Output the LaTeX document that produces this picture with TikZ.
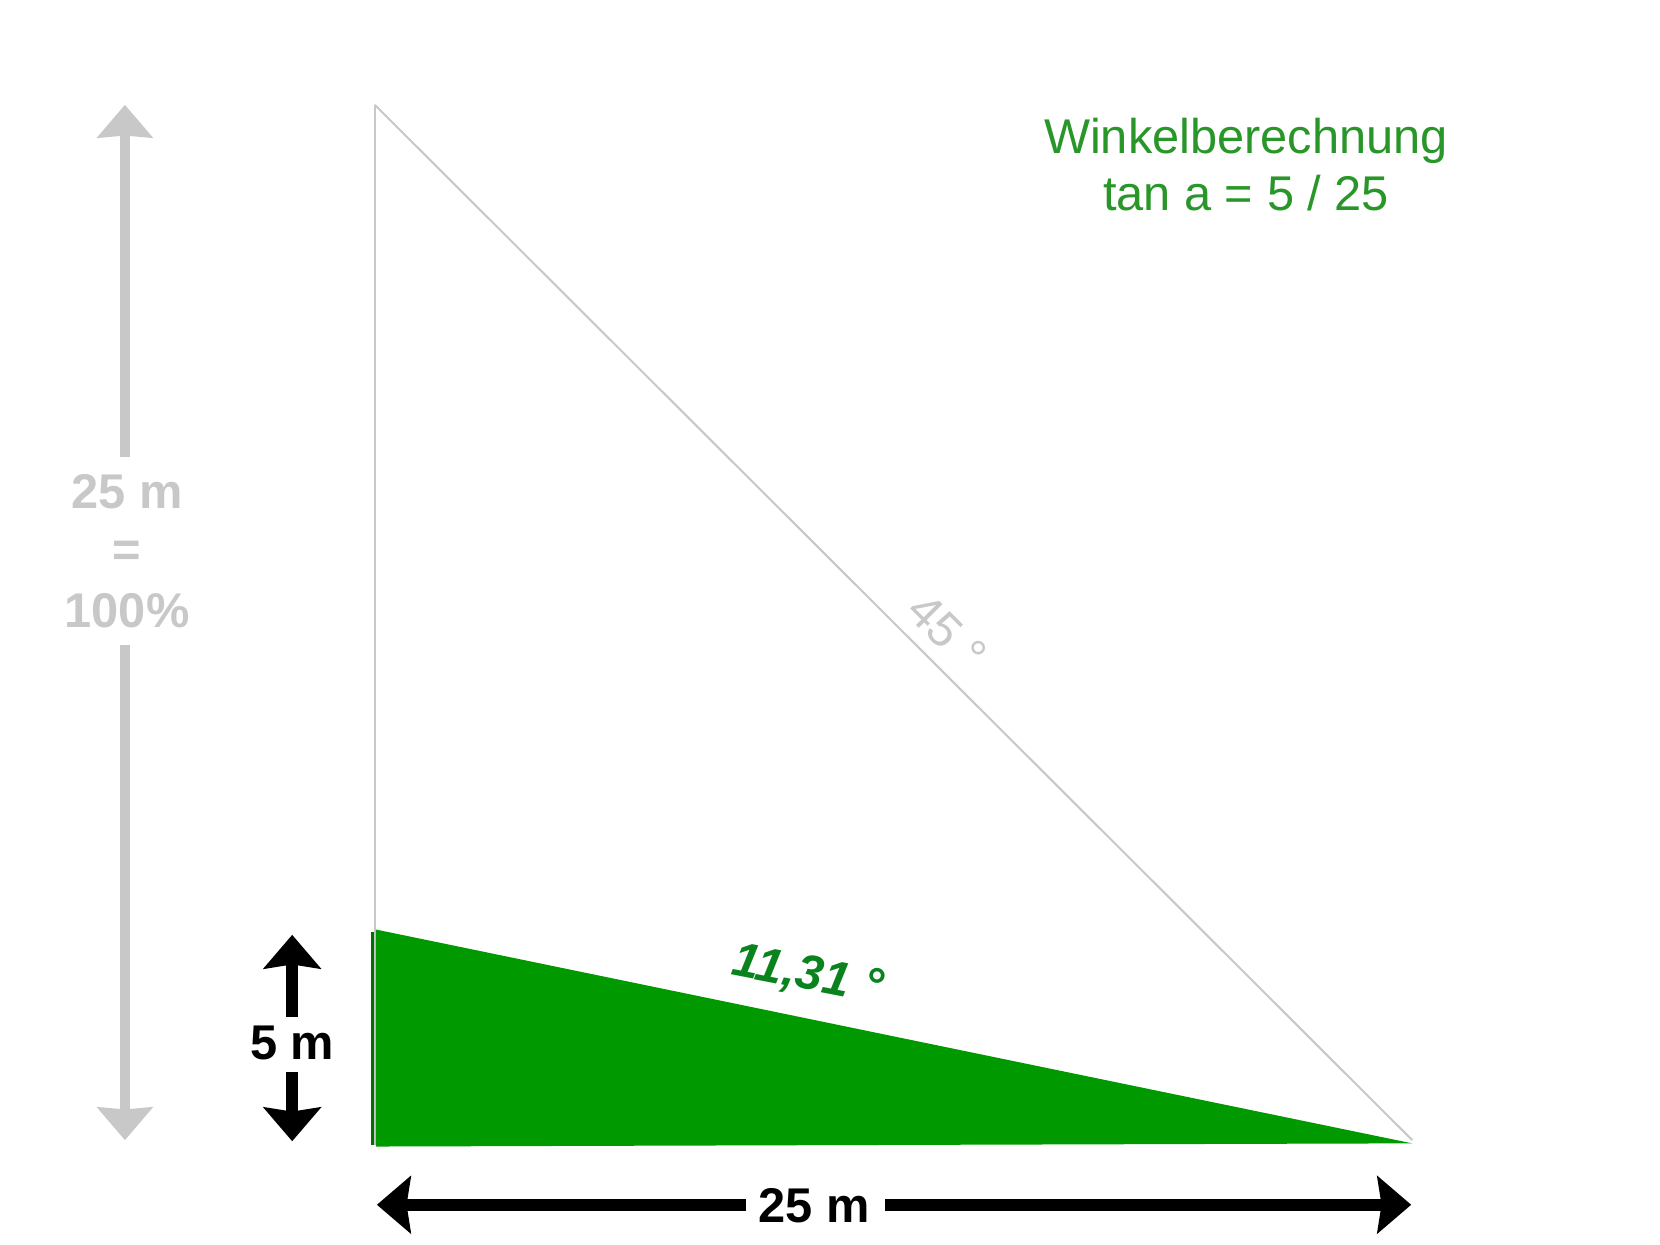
\documentclass[tikz,border=0pt]{standalone}
\usepackage{fontspec}
\setmainfont{Liberation Sans}
\usetikzlibrary{arrows.meta}
\definecolor{lgray}{RGB}{200,200,200}
\definecolor{fillgreen}{RGB}{0,153,0}
\definecolor{edgegreen}{RGB}{0,112,0}
\definecolor{labgreen}{RGB}{10,130,30}
\definecolor{txtgreen}{RGB}{40,150,40}
\begin{document}
\begin{tikzpicture}[x=0.01cm,y=-0.01cm,
  lbl/.style={inner sep=0pt, font=\fontsize{13.1}{15}\selectfont},
  graylbl/.style={inner sep=0pt, text=lgray, font=\fontsize{13.1}{15}\selectfont\bfseries},
  blacklbl/.style={inner sep=0pt, text=black, font=\fontsize{13.1}{15}\selectfont\bfseries},
  grayarrow/.style={draw=lgray, line width=2.7pt, -{Stealth[length=0.31cm,width=0.52cm,inset=0.02cm]}},
  blackarrow/.style={draw=black, line width=3.3pt, -{Stealth[length=0.32cm,width=0.54cm,inset=0.04cm]}},
  triline/.style={draw=lgray, line width=0.55pt}
]
\useasboundingbox (0,0) rectangle (1568,1176);

% triangle vertices
\coordinate (A) at (354,99);
\coordinate (B) at (354,1082);
\coordinate (C) at (1334,1077);
\coordinate (G) at (355,878);

% large gray triangle
\draw[triline] (A) -- (B);
\draw[triline] (A) -- (C);

% green triangle
\fill[fillgreen] (G) -- (1334,1080) -- (355,1083) -- cycle;
\draw[edgegreen, line width=0.8pt] (351.5,880) -- (351.5,1082);

% gray height arrow
\node[graylbl, anchor=base] (g25) at (120,480) {25 m};
\node[graylbl, anchor=base] (geq) at (120,535) {=};
\node[graylbl, anchor=base] (g100) at (120,593) {100\%};
\coordinate (gtop) at (118,99);
\coordinate (gbot) at (118,1077);
\draw[grayarrow, shorten <=0.15cm] (gtop |- g25.north) -- (gtop);
\draw[grayarrow, shorten <=0.15cm] (gbot |- g100.south) -- (gbot);

% black 5 m arrow
\node[blacklbl, anchor=base] (f5) at (276,1001) {5 m};
\coordinate (ftop) at (276,883);
\coordinate (fbot) at (276,1078);
\draw[blackarrow, line width=3.1pt, shorten <=0.08cm] (ftop |- f5.north) -- (ftop);
\draw[blackarrow, line width=3.1pt, shorten <=0.1cm] (fbot |- f5.south) -- (fbot);

% black 25 m arrow
\node[blacklbl, anchor=base] (b25) at (769,1155) {25 m};
\coordinate (bl) at (356,1138);
\coordinate (br) at (1333,1138);
\draw[blackarrow, shorten <=0.11cm] (b25.west |- bl) -- (bl);
\draw[blackarrow, shorten <=0.14cm] (b25.east |- br) -- (br);

% angle labels
\node[lbl, text=lgray, rotate=-45] (a45) at (895,597) {45 °};
\node[inner sep=0pt, text=labgreen, font=\fontsize{13.1}{15}\selectfont\bfseries\itshape, rotate=-11] (a11) at (763,922) {11,31 °};

% title
\node[lbl, text=txtgreen, anchor=base] (win) at (1177,145) {Winkelberechnung};
\node[lbl, text=txtgreen, anchor=base] (tan) at (1177,199) {tan a = 5 / 25};
\end{tikzpicture}
\end{document}
